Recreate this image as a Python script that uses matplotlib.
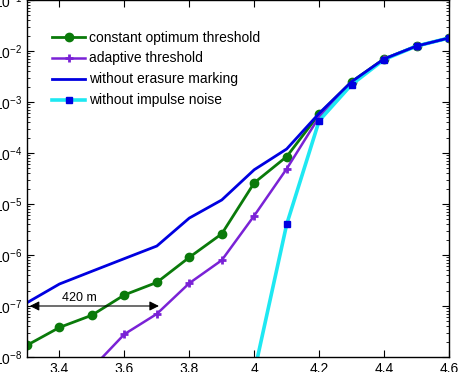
import matplotlib
matplotlib.use("Agg")
import matplotlib.pyplot as plt

plt.rcParams['font.family'] = ['Liberation Sans', 'DejaVu Sans']
plt.rcParams['mathtext.fontset'] = 'custom'
plt.rcParams['mathtext.rm'] = 'Liberation Sans'
plt.rcParams['mathtext.it'] = 'Liberation Sans:italic'
plt.rcParams['mathtext.bf'] = 'Liberation Sans:bold'

# data
x_const = [3.3, 3.4, 3.5, 3.6, 3.7, 3.8, 3.9, 4.0, 4.1, 4.2, 4.3, 4.4, 4.5, 4.6]
y_const = [1.7e-8, 3.8e-8, 6.6e-8, 1.65e-7, 2.9e-7, 9.0e-7, 2.6e-6, 2.6e-5, 8.5e-5, 5.8e-4,
           2.5e-3, 7.0e-3, 1.25e-2, 1.8e-2]
x_adapt = [3.5, 3.6, 3.7, 3.8, 3.9, 4.0, 4.1, 4.2, 4.3, 4.4, 4.5, 4.6]
y_adapt = [6e-9, 2.8e-8, 7.0e-8, 2.8e-7, 7.9e-7, 5.9e-6, 4.9e-5, 5.1e-4, 2.4e-3, 7.0e-3, 1.25e-2, 1.8e-2]
x_noer = [3.3, 3.4, 3.5, 3.6, 3.7, 3.8, 3.9, 4.0, 4.1, 4.2, 4.3, 4.4, 4.5, 4.6]
y_noer = [1.16e-7, 2.7e-7, 4.8e-7, 8.5e-7, 1.5e-6, 5.3e-6, 1.2e-5, 4.7e-5, 1.2e-4, 6.0e-4,
          2.5e-3, 7.0e-3, 1.25e-2, 1.8e-2]
x_noimp = [4.0, 4.1, 4.2, 4.3, 4.4, 4.5, 4.6]
y_noimp = [5e-9, 4.0e-6, 4.3e-4, 2.2e-3, 6.8e-3, 1.25e-2, 1.8e-2]

labels = ["constant optimum threshold", "adaptive threshold",
          "without erasure marking", "without impulse noise"]
xticks = [3.4, 3.6, 3.8, 4.0, 4.2, 4.4, 4.6]
xticklabels = ["3.4", "3.6", "3.8", "4", "4.2", "4.4", "4.6"]
ytick_exps = [-8, -7, -6, -5, -4, -3, -2, -1]
annot_text = "420 m"

fig = plt.figure(figsize=(4.74, 3.72), dpi=100)
ax = fig.add_axes([27/474, 15/372, (449-27)/474, 357/372])

ax.plot(x_const, y_const, color='#0a7a0a', lw=2, marker='o', ms=6, label=labels[0])
ax.plot(x_adapt, y_adapt, color='#7a22d6', lw=1.8, marker='+', ms=6, mew=2, label=labels[1])
ax.plot(x_noimp, y_noimp, color='#1ee8f2', lw=2.6, marker='s', ms=5,
        mfc='#0000e0', mec='#0000e0', label=labels[3])
ax.plot(x_noer, y_noer, color='#0000e0', lw=2, label=labels[2])

ax.set_yscale('log')
ax.set_xlim(3.3, 4.6)
ax.set_ylim(1e-8, 1e-1)
ax.set_xticks(xticks)
ax.set_xticklabels(xticklabels)
ax.set_yticks([10.0**e for e in ytick_exps])
ax.set_yticklabels([r'$10^{%d}$' % e for e in ytick_exps])
ax.tick_params(which='both', direction='in', top=True, right=True, labelsize=10)
ax.tick_params(which='major', length=5)
ax.tick_params(which='minor', length=2.5)
for s in ax.spines.values():
    s.set_linewidth(1.0)

ax.annotate('', xy=(3.3, 1e-7), xytext=(3.715, 1e-7),
            arrowprops=dict(arrowstyle='<|-|>', color='black', lw=0.8, mutation_scale=14))
ax.text(3.46, 1.45e-7, annot_text, ha='center', va='center', fontsize=9)

h, l = ax.get_legend_handles_labels()
order = [0, 1, 3, 2]
ax.legend([h[i] for i in order], [l[i] for i in order], loc='upper left',
          bbox_to_anchor=(0.046, 0.93), frameon=False, fontsize=10,
          handlelength=2.4, handletextpad=0.3, labelspacing=0.5, borderaxespad=0)

fig.savefig('out.png', dpi=100)
